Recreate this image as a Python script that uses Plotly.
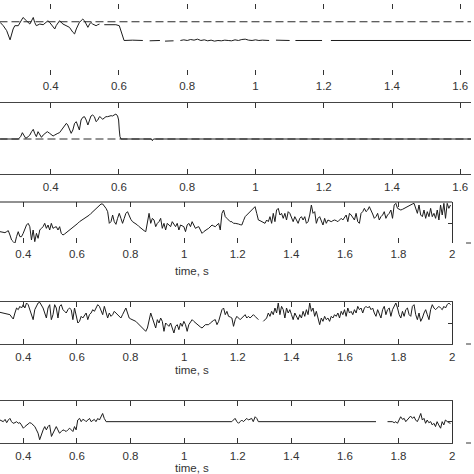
import plotly.graph_objects as go

# ---------------- data ----------------
# Panel 1 (top): measured signal and dashed reference level
P1_T = [0.252, 0.261, 0.271, 0.281, 0.290, 0.295, 0.305, 0.315, 0.319, 0.329,
        0.339, 0.349, 0.353, 0.358, 0.368, 0.378, 0.387, 0.392, 0.397, 0.407,
        0.412, 0.416, 0.426, 0.436, 0.446, 0.455, 0.465, 0.470, 0.475, 0.484,
        0.489, 0.494, 0.499, 0.504, 0.509, 0.514, 0.518, 0.523, 0.528, 0.533,
        0.538, 0.543, 0.550, 0.557, 0.591, 0.601, 0.606, 0.611,
        0.615, 0.64, 0.67, 0.68, 0.69, 0.72, 0.725, 0.735, 0.76, 0.77,
        0.78, 0.79, 0.80, 0.81, 0.82, 0.83, 0.84, 0.85, 0.86, 0.87,
        0.88, 0.89, 0.90, 0.91, 0.92, 0.93, 0.94, 0.95, 0.96, 0.97,
        0.98, 0.99, 1.00, 1.01, 1.02, 1.04, 1.05, 1.06, 1.10, 1.11,
        1.117, 1.195, 1.208, 1.221, 1.65]
P1_V = [55, 45, 30, 2, 35, 45, 45, 65, 70, 60,
        50, 70, 55, 45, 50, 48, 55, 60, 55, 40,
        35, 45, 60, 50, 45, 40, 25, 20, 35, 55,
        60, 65, 60, 50, 40, 50, 55, 50, 48, 45,
        48, 50, None, 48, 48, 45, 30, 10,
        0, 1, 0, None, -1, 0, None, -2, -1, None,
        0, 2, 0, 3, 1, 4, 0, 2, -1, 1,
        -2, 0, -1, 1, 0, -1, 2, 0, 3, 4,
        1, 0, 2, 0, 1, 0, None, 1, 0, None,
        0, 0, None, 0, 0]
P1_REF_T = [0.25, 1.65]
P1_REF_V = [57, 57]

# Panel 2
P2_T = [0.252, 0.305, 0.312, 0.317, 0.321, 0.327, 0.334, 0.339, 0.344, 0.349,
        0.353, 0.358, 0.363, 0.368, 0.373, 0.378, 0.385, 0.390, 0.397, 0.402,
        0.407, 0.412, 0.416, 0.421, 0.426, 0.431, 0.436, 0.441, 0.446, 0.450,
        0.455, 0.460, 0.465, 0.470, 0.475, 0.480, 0.484, 0.489, 0.494, 0.499,
        0.504, 0.509, 0.514, 0.518, 0.523, 0.528, 0.533, 0.538, 0.543, 0.547,
        0.552, 0.557, 0.562, 0.567, 0.572, 0.577, 0.581, 0.586, 0.591, 0.596,
        0.599, 0.601, 0.603, 0.606, 0.695, 0.698, 0.701, 1.65]
P2_V = [0, 0, 7, 19, 12, 2, 7, 12, 22, 29,
        17, 7, 22, 12, 5, 12, 17, 22, 17, 12,
        9, 12, 15, 17, 19, 27, 35, 42, 47, 42,
        29, 17, 27, 47, 52, 37, 27, 57, 65, 67,
        57, 42, 57, 69, 72, 67, 52, 57, 67, 65,
        59, 62, 67, 67, 69, 70, 69, 72, 75, 69,
        57, 27, 7, 0, 0, -5, 0, 0]
P2_REF_T = [0.25, 1.65]
P2_REF_V = [0, 0]

# Panels 3 and 4: uniformly sampled signals
P34_T0 = 0.313
P34_DT = 0.00618
P3_V = [-25, -26, -27, -28, -25, -22, -35, -50, -55, -60,
        -40, -25, -40, -40, -30, -15, -5, 0, -10, -50,
        -20, -55, -30, -45, -20, -15, -10, 0, -15, -5,
        -20, 0, -15, -12, -10, -20, -10, -30, -35, -32,
        -28, -24, -20, -17, -13, -10, -5, 0, 5, 8,
        12, 15, 18, 22, 25, 30, 35, 40, 45, 50,
        55, 58, 58, 52, 45, 35, 0, 5, 25, 5,
        -3, 15, 30, 15, 0, 15, 30, 35, 20, 12,
        5, 2, 0, -5, -10, -15, -20, -22, -25, 0,
        30, 0, 15, 10, -10, 0, 5, 15, -15, 0,
        -20, 0, -5, -10, 5, -2, -10, 0, -20, -5,
        -8, -10, -25, -5, 0, -10, 5, -5, -15, -12,
        -10, -20, -30, -25, -20, -18, -15, -10, -5, -8,
        -10, -5, 0, -20, 30, 40, 20, 15, 10, 5,
        5,
        0, 0, 0, -2, -4, -5, 8, 20, 25, 30,
        35, 40, 45, 50, 30, 10, 8, 5, 2, 0,
        10, 5, 20, 0, 30, 5, 40, 45, 25, 30,
        15, 30, 10, 35, 30, 15, 5, 20, 10, 0,
        15, 20, 10, 20, 0, 5, 25, 55, 30, 35,
        0, 15, 20, 10, -5, 15, 0, 10, 8, 5,
        8, 10, 8, 5, 10, 15, 10, 20, 25, 5,
        30, 25, 15, 10, 30, 5, 0, 30, 35, 45,
        35, 40, 50, 40, 28, 15, 20, 30, 10, 20,
        25, 35, 15, 25, 30, 40, 15, 55, 60, 45,
        42, 40, 42, 45, 48, 50, 52, 55, 58, 60,
        45, 30, 55, 25, 20, 40, 15, 35, 20, 45,
        20, 30, 15, 40, 10, 55, 25, 60, 15, 60,
        45, 55]
P4_V = [32, 31, 30, 29, 28, 27, 25, 18, 12, 30,
        45, 40, 50, 45, 55, 45, 60, 55, 40, 30,
        10, 40, 50, 60, 62, 55, 45, 30, 15, 45,
        55, 10, 25, 55, 45, 15, 50, 55, 40, 35,
        30, 40, 45, 40, 10, 45, 25, 0, 5, 20,
        15, 25, 30, 10, 25, 30, 40, 35, 45, 55,
        50, 35, 25, 50, 35, 15, 30, 20, 25, 35,
        30, 25, 20, 15, 25, 35, 45, 30, 15, 12,
        10, 8, 5, 0, -5, -10, -15, -20, -25, -15,
        5, 30, 15, 0, -15, 10, 0, 15, 5, -25,
        0, -5, -10, 0, -15, -30, -10, -5, -20, 0,
        -10, 5, -5, -25, -5, 5, 10, 5, 0, -5,
        -10, -12, -15, -10, -5, -5, -5, 0, 5, 8,
        10, -5, 5, 20, 40, 45, 25, 35, 20, 18,
        15,
        -10, 10, 20, 15, 10, 15, 20, 25, 15, 20,
        15, 20, 25, 20, 15, 10, None, None, 5, 10,
        15, 30, 20, 35, 25, 45, 30, 60, 25, 50,
        40, 15, 45, 30, 40, 25, 10, 30, 20, 10,
        25, 15, 35, 20, 40, 25, 60, 35, 45, 20,
        35, 10, -5, 15, 5, 20, 10, 15, 5, 20,
        15, 25, 20, 30, 15, 35, 25, 40, 20, 45,
        30, 35, 25, 40, 30, 50, 40, 45, 30, 45,
        50, 45, 50, 40, 45, 30, 20, 40, 25, 15,
        40, 50, 25, 40, 45, 20, 40, 50, 60, 45,
        25, 15, 35, 20, 40, 45, 25, 20, 50, 55,
        25, 10, 30, 5, 15, 30, 40, 25, 10, 40,
        55, 45, 40, 45, 50, 45, 40, 50, 45, 55,
        60, 55]

# Panel 5
P5_T = [0.313, 0.325, 0.332, 0.338, 0.344, 0.350, 0.356, 0.362, 0.369, 0.375,
        0.381, 0.387, 0.393, 0.400, 0.406, 0.412, 0.418, 0.424, 0.430, 0.437,
        0.443, 0.449, 0.455, 0.461, 0.467, 0.474, 0.480, 0.486, 0.492, 0.498,
        0.505, 0.511, 0.517, 0.523, 0.529, 0.535, 0.542, 0.548, 0.554, 0.560,
        0.566, 0.573, 0.579, 0.585, 0.591, 0.597, 0.603, 0.610, 0.616, 0.622,
        0.628, 0.634, 0.641, 0.647, 0.653, 0.659, 0.665, 0.671, 0.678, 0.684,
        0.690, 0.696, 0.702, 0.709,
        1.178, 1.184, 1.190, 1.197, 1.203, 1.209, 1.215, 1.221, 1.227, 1.234,
        1.240, 1.246, 1.252, 1.258, 1.265, 1.271, 1.277, 1.716, 1.73, 1.759,
        1.777, 1.784, 1.790, 1.796, 1.802, 1.808, 1.815, 1.821, 1.827, 1.833,
        1.839, 1.845, 1.852, 1.858, 1.864, 1.870, 1.876, 1.883, 1.889, 1.895,
        1.901, 1.907, 1.913, 1.920, 1.926, 1.932, 1.938, 1.944, 1.950, 1.957,
        1.963, 1.969, 1.975, 1.981, 1.987, 1.994]
P5_V = [5, 0, 7, -3, 5, 10, 0, -5, -3, 0,
        -5, -3, -10, -20, -15, -10, -5, -3, -5, -10,
        -15, -25, -35, -55, -40, -25, -15, -25, -15, -10,
        -45, -35, -25, -15, -25, -35, -30, -25, -27, -30,
        -25, -20, -25, -30, -15, -25, 5, 10, 0, 7,
        5, 0, 5, 10, 0, 5, 7, 0, 10, 5,
        15, 25, 10, 0,
        0, 5, 10, 0, -5, 0, 5, 0, 5, 10,
        5, 7, 10, 0, 15, 10, 0, 0, None, 0,
        0, -3, 0, -5, 5, 15, 7, 10, 0, 5,
        13, 17, 10, 15, 5, 0, 10, 25, 5, 10,
        -5, 5, -3, 0, -10, -5, -15, 0, -10, -20,
        0, -10, 5, 0, -3, -5]

TOP_TICKS = [0.4, 0.6, 0.8, 1.0, 1.2, 1.4, 1.6]
TOP_TICK_TEXT = ["0.4", "0.6", "0.8", "1", "1.2", "1.4", "1.6"]
BOT_TICKS = [0.4, 0.6, 0.8, 1.0, 1.2, 1.4, 1.6, 1.8, 2.0]
BOT_TICK_TEXT = ["0.4", "0.6", "0.8", "1", "1.2", "1.4", "1.6", "1.8", "2"]
X_LABEL = "time, s"

# ---------------- figure ----------------
P3_T = [P34_T0 + i * P34_DT for i in range(len(P3_V))]
P4_T = [P34_T0 + i * P34_DT for i in range(len(P4_V))]

W = H = 474
def py(y):  # pixel row -> paper fraction
    return 1 - y / H

SIG = dict(color="#1c1c1c", width=1)
REF = dict(color="#2a2a2a", width=1, dash="8px,4px")
fig = go.Figure()
fig.add_trace(go.Scatter(x=P1_REF_T, y=P1_REF_V, mode="lines", xaxis="x", yaxis="y", line=REF))
fig.add_trace(go.Scatter(x=P1_T, y=P1_V, mode="lines", xaxis="x", yaxis="y", line=SIG))
fig.add_trace(go.Scatter(x=P2_REF_T, y=P2_REF_V, mode="lines", xaxis="x2", yaxis="y2", line=REF))
fig.add_trace(go.Scatter(x=P2_T, y=P2_V, mode="lines", xaxis="x2", yaxis="y2", line=SIG))
fig.add_trace(go.Scatter(x=P3_T, y=P3_V, mode="lines", xaxis="x3", yaxis="y3", line=SIG))
fig.add_trace(go.Scatter(x=P4_T, y=P4_V, mode="lines", xaxis="x4", yaxis="y4", line=SIG))
fig.add_trace(go.Scatter(x=P5_T, y=P5_V, mode="lines", xaxis="x5", yaxis="y5", line=SIG))

FONT = dict(family="Liberation Sans, Arial, sans-serif", size=11.5, color="#333")
LFONT = dict(family="Liberation Sans, Arial, sans-serif", size=11.5, color="#333")
top_range = [0.2515, 0.2515 + W / 343.5]
bot_dom = [0, 455 / W]
bot_range = [0.313, 2.0]

def xax(anchor, dom, rng, tv, tt, line):
    return dict(anchor=anchor, domain=dom, range=rng, tickvals=tv, ticktext=tt,
                ticks="inside", ticklen=5, tickcolor="#333", tickwidth=1,
                mirror="ticks", showline=line, linecolor="#444", linewidth=1,
                showgrid=False, zeroline=False, tickfont=FONT, ticklabelstandoff=2)

def yax(anchor, dom, rng, right):
    d = dict(anchor=anchor, domain=dom, range=rng, showgrid=False, zeroline=False,
             showticklabels=False)
    if right:
        d.update(side="right", showline=True, linecolor="#333", linewidth=1,
                 ticks="inside", ticklen=4, tickvals=[0], tickcolor="#333")
    else:
        d.update(visible=False)
    return d

fig.update_layout(
    width=W, height=H, margin=dict(l=0, r=0, t=0, b=0),
    paper_bgcolor="white", plot_bgcolor="white", showlegend=False,
    xaxis=xax("y", [0, 1], top_range, TOP_TICKS, TOP_TICK_TEXT, False),
    yaxis=yax("x", [py(75), py(4)], [-105, 111], False),
    xaxis2=xax("y2", [0, 1], top_range, TOP_TICKS, TOP_TICK_TEXT, True),
    yaxis2=yax("x2", [py(174), py(103)], [-105, 108], False),
    xaxis3=xax("y3", bot_dom, bot_range, BOT_TICKS, BOT_TICK_TEXT, False),
    yaxis3=yax("x3", [py(243), py(202)], [-59, 64], True),
    xaxis4=xax("y4", bot_dom, bot_range, BOT_TICKS, BOT_TICK_TEXT, True),
    yaxis4=yax("x4", [py(344), py(302)], [-63, 63], True),
    xaxis5=xax("y5", bot_dom, bot_range, BOT_TICKS, BOT_TICK_TEXT, True),
    yaxis5=yax("x5", [py(443), py(401)], [-65, 63], True),
)

# top border of panel 3
fig.add_shape(type="line", xref="x3 domain", yref="y3 domain", x0=0, x1=1, y0=1, y1=1,
              line=dict(color="#222", width=1))
# short marks at the right edge (from the neighbouring figure)
for yb in (243, 344, 443):
    fig.add_shape(type="line", xref="paper", yref="paper", x0=469 / W, x1=1,
                  y0=py(yb), y1=py(yb), line=dict(color="#333", width=1))

for yl in (271, 370, 468):
    fig.add_annotation(text=X_LABEL, xref="x3", yref="paper", x=1.03, y=py(yl),
                       showarrow=False, font=LFONT, xanchor="center", yanchor="middle")

fig.write_html("out.html", config={"displayModeBar": False},
               post_script="document.body.style.margin='0';document.body.style.overflow='hidden';")
